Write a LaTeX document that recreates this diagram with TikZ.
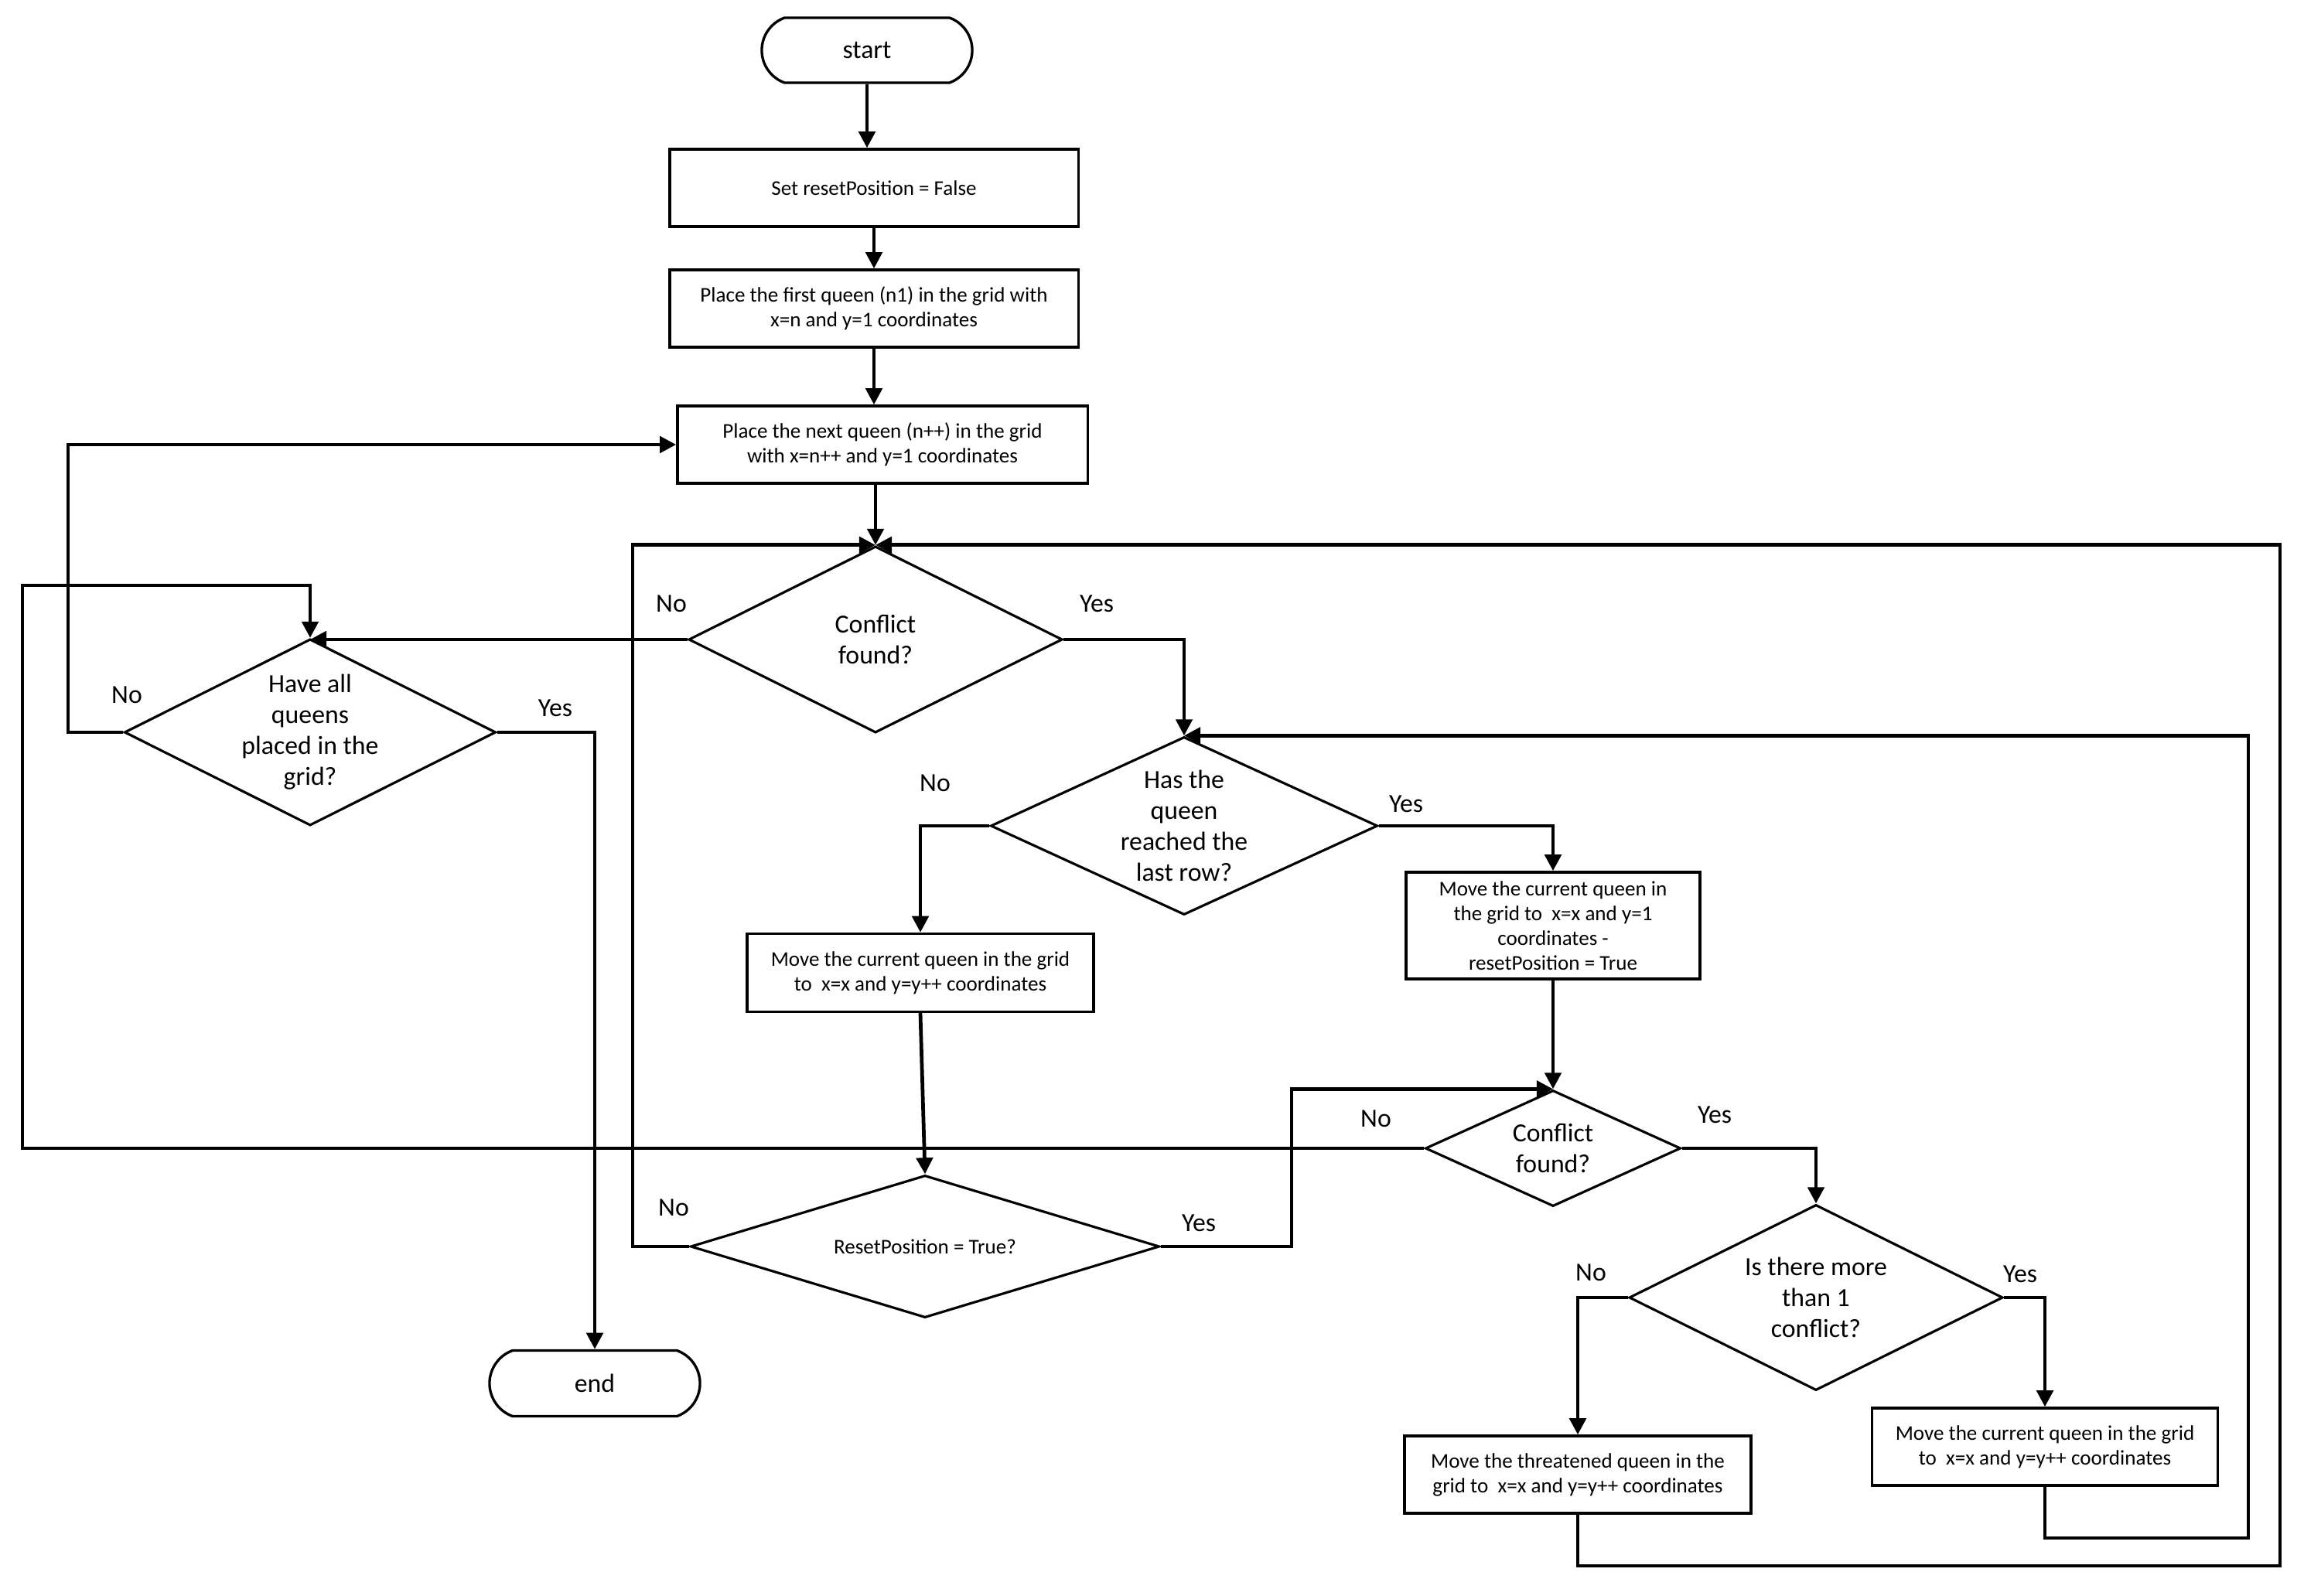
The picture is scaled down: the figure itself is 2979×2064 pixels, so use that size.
\documentclass[tikz,border=0pt]{standalone}
\usepackage{fontspec}
\setmainfont{Carlito}
\usetikzlibrary{shapes.geometric,shapes.misc,arrows.meta,calc}
\begin{document}
\begin{tikzpicture}[x=0.01cm,y=-0.01cm,
  box/.style={draw, line width=0.95pt, rectangle, inner sep=0pt, align=center, font=\fontsize{7.7pt}{9.1pt}\selectfont},
  dia/.style={draw, line width=0.9pt, diamond, inner sep=0pt},
  dtext/.style={font=\fontsize{9.6pt}{11.4pt}\selectfont, align=center, inner sep=0pt},
  dstext/.style={font=\fontsize{7.7pt}{9.1pt}\selectfont, align=center, inner sep=0pt},
  term/.style={draw, line width=0.95pt, rounded rectangle, rounded rectangle arc length=140, inner sep=0pt, font=\fontsize{9.6pt}{11.4pt}\selectfont},
  arr/.style={line width=1.35pt, -{Triangle[length=6pt,width=6pt]}},
  lab/.style={font=\fontsize{9.6pt}{11.4pt}\selectfont, inner sep=0pt}
]
\useasboundingbox (0,0) rectangle (2979,2064);

% terminals
\node[term, minimum width=2.72cm, minimum height=0.84cm] (start) at (1121,65) {start};
\node[term, minimum width=2.72cm, minimum height=0.85cm] (end) at (769,1789) {end};

% boxes
\node[box, minimum width=5.28cm, minimum height=1.00cm] (b1) at (1130,243) {Set resetPosition = False};
\node[box, minimum width=5.28cm, minimum height=1.00cm] (b2) at (1130,399) {Place the first queen (n1) in the grid with\\x=n and y=1 coordinates};
\node[box, minimum width=5.30cm, minimum height=1.00cm] (b3) at (1141,575) {Place the next queen (n++) in the grid\\with x=n++ and y=1 coordinates};
\node[box, minimum width=4.48cm, minimum height=1.01cm] (b4) at (1190,1258) {Move the current queen in the grid\\to~ x=x and y=y++ coordinates};
\node[box, minimum width=3.80cm, minimum height=1.38cm] (b5) at (2008,1197) {Move the current queen in\\the grid to~ x=x and y=1\\coordinates -\\resetPosition = True};
\node[box, minimum width=4.48cm, minimum height=1.00cm] (b6) at (2040,1907) {Move the threatened queen in the\\grid to~ x=x and y=y++ coordinates};
\node[box, minimum width=4.47cm, minimum height=1.00cm] (b7) at (2644,1871) {Move the current queen in the grid\\to~ x=x and y=y++ coordinates};

% decisions
\node[dia, minimum width=4.83cm, minimum height=2.41cm] (d1) at (1132,827) {};
\node[dtext] (d1t) at (d1) {Conflict\\found?};
\node[dia, minimum width=4.80cm, minimum height=2.41cm] (d2) at (401,947) {};
\node[dtext] (d2t) at (d2) {Have all\\queens\\placed in the\\grid?};
\node[dia, minimum width=5.00cm, minimum height=2.30cm] (d4) at (1531,1068) {};
\node[dtext] (d4t) at (d4) {Has the\\queen\\reached the\\last row?};
\node[dia, minimum width=6.06cm, minimum height=1.84cm] (dR) at (1196,1612) {};
\node[dstext] (dRt) at (dR) {ResetPosition = True?};
\node[dia, minimum width=3.30cm, minimum height=1.50cm] (d3) at (2008,1485) {};
\node[dtext] (d3t) at (d3) {Conflict\\found?};
\node[dia, minimum width=4.83cm, minimum height=2.40cm] (d5) at (2348,1678) {};
\node[dtext] (d5t) at (d5) {Is there more\\than 1\\conflict?};

% labels
\node[lab] (l1n) at (868,781) {No};
\node[lab] (l1y) at (1418,781) {Yes};
\node[lab] (l2n) at (164,899) {No};
\node[lab] (l2y) at (718,916) {Yes};
\node[lab] (l4n) at (1209,1013) {No};
\node[lab] (l4y) at (1818,1040) {Yes};
\node[lab] (lRn) at (871,1562) {No};
\node[lab] (lRy) at (1550,1582) {Yes};
\node[lab] (l3n) at (1779,1447) {No};
\node[lab] (l3y) at (2217,1442) {Yes};
\node[lab] (l5n) at (2057,1646) {No};
\node[lab] (l5y) at (2612,1648) {Yes};

% helper coordinates
\coordinate (L1) at (29,757);
\coordinate (L2) at (88,575);
\coordinate (L3) at (818,0);
\coordinate (L4) at (1670,0);
\coordinate (R1) at (2948,2025);
\coordinate (R2) at (2907,1989);

% connectors
\draw[arr] (start.south) -- (start.south |- b1.north);
\draw[arr] (b1.south) -- (b2.north);
\draw[arr] (b2.south) -- (b2.south |- b3.north);
\draw[arr] (d1.north |- b3.south) -- (d1.north);
\draw[arr] (d1.west) -- (d1.west -| d2.north);
\draw[arr] (d3.west) -| (L1) -| (d2.north);
\draw[arr] (d2.west) -| (L2) -- (b3.west);
\draw[arr] (d2.east) -| (end.north);
\draw[arr] (d1.east) -| (d4.north);
\draw[arr] (d4.west) -| (b4.north);
\draw[arr] (d4.east) -| (b5.north);
\draw[arr] (b4.south) -- (dR.north);
\draw[arr] (b5.south) -- (d3.north);
\draw[arr] (dR.west) -| (d1.north -| L3) -- (d1.north);
\draw[arr] (dR.east) -| (d3.north -| L4) -- (d3.north);
\draw[arr] (d3.east) -| (d5.north);
\draw[arr] (d5.west) -| (b6.north);
\draw[arr] (d5.east) -| (b7.north);
\draw[arr] (b6.south) |- (R1) |- (d1.north);
\draw[arr] (b7.south) |- (R2) |- (d4.north);
\end{tikzpicture}
\end{document}
